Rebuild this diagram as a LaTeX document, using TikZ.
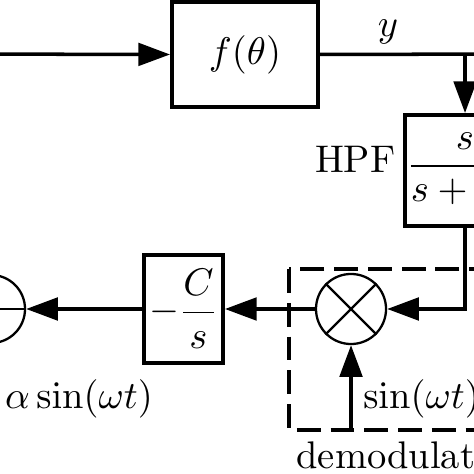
\documentclass[tikz,border=0pt]{standalone}
\usepackage{amssymb,amsmath}
\usetikzlibrary{arrows.meta}

\begin{document}
\begin{tikzpicture}[x=0.01cm, y=-0.01cm, line width=1pt,
    font=\fontsize{10.95}{13.2}\selectfont,
    block/.style={draw, line width=1.1pt, inner sep=0pt},
    junction/.style={draw, circle, line width=0.65pt, inner sep=0pt},
    arr/.style={-{Triangle[length=9pt,width=6.4pt]}}]
\useasboundingbox (0,0) rectangle (474,474);
\clip (0,0) rectangle (474,474);
% Draw blocks
\node[block, minimum width=1.46cm, minimum height=1.05cm] (plant) at (245,54.5) {$f(\theta)$};
\node[block, minimum width=1.2cm, minimum height=1.11cm] (hpf) at (465,170.5) {$\dfrac{s}{s+\omega_h}$};
\node[anchor=base east, inner sep=0pt] (hpflabel) at (397,173) {HPF};
\node[block, minimum width=0.79cm, minimum height=1.08cm] (integ) at (183.5,309) {$-\dfrac{C}{s}$};
% Draw junctions
\node[junction, minimum size=0.7cm] (mult) at (351,309) {};
\draw[line width=0.65pt] (mult.north west) -- (mult.south east);
\draw[line width=0.65pt] (mult.north east) -- (mult.south west);
\node[junction, minimum size=0.68cm] (sum) at (-9,309) {};
\draw[line width=0.65pt] (sum.west) -- (sum.east);
\draw[line width=0.65pt] (sum.north) -- (sum.south);
% Draw demodulator frame
\draw[dash pattern=on 6.8pt off 2.8pt] (289,269) rectangle (517,430);
\node[anchor=north, inner sep=0pt] (demodlabel) at (403,440) {demodulator};
% Draw signals
\coordinate (theta) at (-60,54);
\coordinate (yout) at (520,54);
\coordinate (ybranch) at (465,54);
\coordinate (hpfturn) at (465,309);
\coordinate (dither) at (351,430);
\draw[arr] (theta) -- (plant.west);
\draw (plant.east) -- node[pos=0.34, above=2.5pt, inner sep=0pt] {$y$} (yout);
\draw[arr] (ybranch) -- (hpf.north);
\draw[arr] (hpf.south) -- (hpfturn) -- (mult.east);
\draw[arr] (mult.west) -- (integ.east);
\draw[arr] (integ.west) -- (sum.east);
\draw[arr] (dither) -- node[pos=0.37, right=3pt, inner sep=0pt] {$\sin(\omega t)$} (mult.south);
\node[inner sep=0pt] (ditherlabel) at (79,399) {$\alpha\sin(\omega t)$};
\end{tikzpicture}
\end{document}
